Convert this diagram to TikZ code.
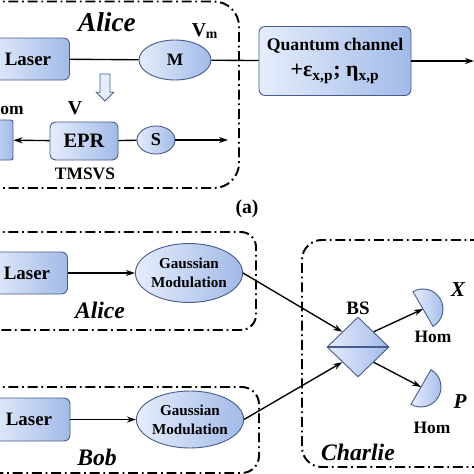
\documentclass[tikz,border=0pt]{standalone}
\usepackage{fontspec}
\setmainfont{Liberation Serif}
\usetikzlibrary{arrows.meta,shapes.geometric,shapes.arrows}
\definecolor{boxlight}{RGB}{230,237,252}
\definecolor{boxdark}{RGB}{162,186,232}
\definecolor{boxedge}{RGB}{72,92,140}
\newcommand{\pxu}{0.0232cm}
\newcommand{\homdet}[3]{%
  \coordinate (#1) at #2;
  \begin{scope}[shift={#2},rotate=#3]
    \draw[boxedge,left color=boxlight,right color=boxdark,line width=0.6pt]
      (0,-20) -- (0,20) arc[start angle=90,end angle=-90,radius=20] -- cycle;
  \end{scope}%
}

\begin{document}
\begin{tikzpicture}[x=\pxu,y=-\pxu,
  box/.style={draw=boxedge,line width=0.6pt,rounded corners=4pt,left color=boxlight,right color=boxdark,inner sep=0pt,font=\fontsize{12.5}{14}\selectfont\bfseries},
  oval/.style={ellipse,draw=boxedge,line width=0.6pt,left color=boxlight,right color=boxdark,inner sep=0pt},
  group/.style={line width=1.3pt,dash pattern=on 6.5pt off 2.5pt on 1.2pt off 2.5pt},
  who/.style={font=\fontsize{15.6}{18}\selectfont\bfseries\itshape},
  lbl/.style={font=\fontsize{11.5}{13}\selectfont\bfseries},
  link/.style={line width=0.9pt},
  arr/.style={line width=0.9pt,-{Stealth[length=6pt,width=4pt]}}]
  \useasboundingbox (0,0) rectangle (474,474);
  \clip (0,0) rectangle (474,474);

  % (a)
  \draw[group,rounded corners=5.8mm] (-30,1.5) -- (239,1.5) -- (239,188) -- (-30,188);
  \node[who,font=\fontsize{18}{20}\selectfont\bfseries\itshape] (aliceA) at (107,22) {Alice};
  \node[box,minimum width=83*\pxu,minimum height=42*\pxu] (laserA) at (28,59) {Laser};
  \node[oval,minimum width=72*\pxu,minimum height=40*\pxu,font=\fontsize{11.5}{13}\selectfont\bfseries] (mod) at (175,60) {M};
  \node[font=\fontsize{13}{15}\selectfont\bfseries] (vm) at (205,31) {V\textsubscript{m}};
  \node[box,minimum width=152*\pxu,minimum height=69*\pxu,align=center,font=\fontsize{11.7}{14}\selectfont\bfseries] (qc) at (335,61)
    {Quantum channel\\[3pt]{\fontsize{14.5}{14}\selectfont +ε\textsubscript{x,p}; η\textsubscript{x,p}}};
  \coordinate (outA) at (474,61);
  \node[single arrow,draw=boxedge,line width=0.6pt,fill=boxlight,shape border rotate=270,inner sep=3pt,
    minimum height=27*\pxu,single arrow head extend=2.5pt,single arrow head indent=0pt] (down) at (105,85) {};
  \node[box,minimum width=68*\pxu,minimum height=38*\pxu,font=\fontsize{13.5}{15}\selectfont\bfseries] (epr) at (84,141) {EPR};
  \node[font=\fontsize{13}{15}\selectfont\bfseries] (vlab) at (75,108) {V};
  \node[lbl] (tmsvs) at (85,174) {TMSVS};
  \node[oval,minimum width=38*\pxu,minimum height=28*\pxu,font=\fontsize{12}{14}\selectfont\bfseries] (sq) at (156,140) {S};
  \coordinate (outS) at (228,140);
  \node[box,rounded corners=1.5pt,minimum width=36*\pxu,minimum height=40*\pxu] (homA) at (-5,140) {};
  \node[lbl,anchor=west,inner sep=0pt] (homAlab) at (0,110) {om};

  \draw[link] (laserA) -- (mod);
  \draw[link] (mod) -- (qc);
  \draw[arr] (qc) -- (outA);
  \draw[arr] (epr) -- (homA);
  \draw[link] (epr) -- (sq);
  \draw[arr] (sq) -- (outS);

  \node[font=\fontsize{13}{15}\selectfont\bfseries] (capA) at (247,209) {(a)};

  % (b)
  \draw[group,rounded corners=3.5mm] (-30,232) -- (256,232) -- (256,330) -- (-30,330);
  \draw[group,rounded corners=4mm] (-30,387) -- (259,387) -- (259,473) -- (-30,473);
  \draw[group,rounded corners=4.6mm] (480,240) -- (302,240) -- (302,467) -- (480,467);

  \node[box,minimum width=81*\pxu,minimum height=42*\pxu] (laserB) at (27,273) {Laser};
  \node[oval,minimum width=103*\pxu,minimum height=59*\pxu,align=center,font=\fontsize{10}{12.5}\selectfont\bfseries] (gmA) at (189,273) {Gaussian\\Modulation};
  \node[who] (aliceB) at (100,310) {Alice};

  \node[box,minimum width=82*\pxu,minimum height=43*\pxu] (laserC) at (29,419.5) {Laser};
  \node[oval,minimum width=103*\pxu,minimum height=57*\pxu,align=center,font=\fontsize{10}{12.5}\selectfont\bfseries] (gmB) at (190,419.5) {Gaussian\\Modulation};
  \node[who] (bob) at (97,457) {Bob};

  \node[diamond,draw=boxedge,line width=0.6pt,left color=boxlight,right color=boxdark,
    minimum width=62*\pxu,minimum height=60*\pxu,inner sep=0pt] (bs) at (358,347) {};
  \draw[boxedge,line width=0.8pt] (bs.west) -- (bs.east);
  \node[font=\fontsize{12.5}{14}\selectfont\bfseries] (bslab) at (358,308) {BS};
  \node[who] (charlie) at (358,452) {Charlie};

  \homdet{homX}{(423,309)}{30}
  \homdet{homP}{(421,387)}{-30}
  \node[lbl] (homXlab) at (433,337) {Hom};
  \node[lbl] (homPlab) at (432,428) {Hom};
  \node[font=\fontsize{14}{16}\selectfont\bfseries\itshape] (xlab) at (458,290) {X};
  \node[font=\fontsize{14}{16}\selectfont\bfseries\itshape] (plab) at (460,402) {P};

  \draw[arr] (laserB) -- (gmA);
  \draw[arr] (laserC) -- (gmB);
  \draw[arr] (gmA.east) -- (bs.north west);
  \draw[arr] (gmB.east) -- (bs.south west);
  \draw[arr] (bs.north east) -- (homX);
  \draw[arr] (bs.south east) -- (homP);
\end{tikzpicture}
\end{document}
